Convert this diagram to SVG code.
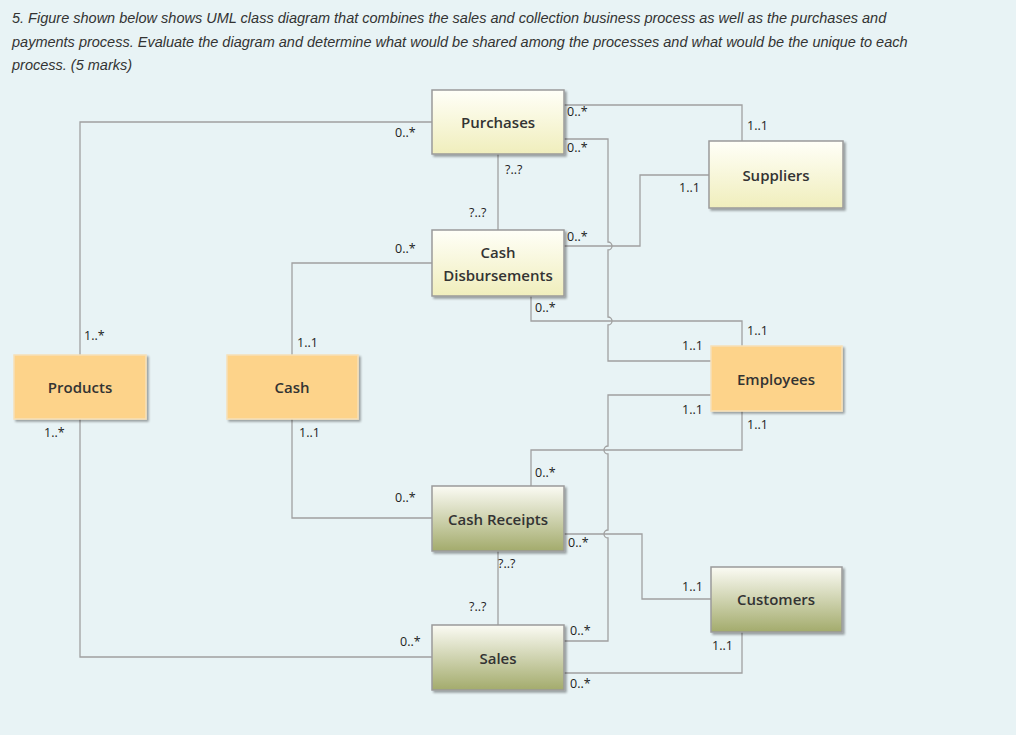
<svg xmlns="http://www.w3.org/2000/svg" width="1016" height="735" viewBox="0 0 1016 735">
<defs>
<linearGradient id="gy" x1="0" y1="0" x2="0" y2="1"><stop offset="0" stop-color="#fffff8"/><stop offset="1" stop-color="#f0eebc"/></linearGradient>
<linearGradient id="gg" x1="0" y1="0" x2="0" y2="1"><stop offset="0" stop-color="#fbfbf4"/><stop offset="1" stop-color="#a3ab6c"/></linearGradient>
<filter id="sh" x="-10%" y="-10%" width="130%" height="130%"><feDropShadow dx="2" dy="2" stdDeviation="1.2" flood-color="#000" flood-opacity="0.35"/></filter>
<style>
.hd{font-family:"Liberation Sans",Arial,sans-serif;font-style:italic;font-size:14.5px;fill:#333}
.lb{font-family:"Open Sans","DejaVu Sans",sans-serif;font-size:12.5px;fill:#222}
.nm{font-family:"Open Sans","DejaVu Sans",sans-serif;font-size:15px;font-weight:600;fill:#333;text-anchor:middle}
.bx{stroke:#9a9a9a;stroke-width:1.5;filter:url(#sh)}
.y{fill:url(#gy)} .g{fill:url(#gg)} .o{fill:#fdd38a;stroke:#f6e0b8}
#connectors path{fill:none;stroke:#a0a0a0;stroke-width:1.3}
</style>
</defs>
<rect width="1016" height="735" fill="#e8f3f5"/>
<text class="hd" x="12" y="23">5.   Figure shown below shows UML class diagram that combines the sales and collection business process as well as the purchases and</text>
<text class="hd" x="12" y="47">payments process. Evaluate the diagram and determine what would be shared among the processes and what would be the unique to each</text>
<text class="hd" x="12" y="70">process. (5 marks)</text>
<g id="connectors">
<path d="M432,122H80V355M80,419V657H432"/>
<path d="M432,263H292V355M292,419V518H432"/>
<path d="M564,105H742V141"/>
<path d="M564,139H608V242a4,4 0 0 1 0,8V317a4,4 0 0 1 0,8V361H711"/>
<path d="M564,246H640V175H709"/>
<path d="M531,296V321H742V346"/>
<path d="M531,486V450H742V411"/>
<path d="M564,641H608V538a4,4 0 0 1 0,-8V454a4,4 0 0 1 0,-8V395H711"/>
<path d="M564,534H642V599H711"/>
<path d="M564,673H742V632"/>
<path d="M498,154V230M498,551V625"/>
</g>
<g id="purchases"><rect class="bx y" x="432" y="90" width="132" height="64"/><text class="nm" x="498" y="128">Purchases</text></g>
<g id="cashdisb"><rect class="bx y" x="432" y="230" width="132" height="66"/><text class="nm" x="498" y="258">Cash</text><text class="nm" x="498" y="281">Disbursements</text></g>
<g id="suppliers"><rect class="bx y" x="709" y="141" width="134" height="67"/><text class="nm" x="776" y="181">Suppliers</text></g>
<g id="employees"><rect class="bx o" x="711" y="346" width="131" height="65"/><text class="nm" x="776" y="385">Employees</text></g>
<g id="cashreceipts"><rect class="bx g" x="432" y="486" width="132" height="65"/><text class="nm" x="498" y="525">Cash Receipts</text></g>
<g id="sales"><rect class="bx g" x="432" y="625" width="132" height="65"/><text class="nm" x="498" y="664">Sales</text></g>
<g id="customers"><rect class="bx g" x="711" y="567" width="131" height="65"/><text class="nm" x="776" y="605">Customers</text></g>
<g id="products"><rect class="bx o" x="14" y="355" width="132" height="64"/><text class="nm" x="80" y="393">Products</text></g>
<g id="cash"><rect class="bx o" x="227" y="355" width="131" height="64"/><text class="nm" x="292" y="393">Cash</text></g>
<g id="labels">
<text class="lb" x="395" y="137">0..*</text>
<text class="lb" x="567" y="116">0..*</text>
<text class="lb" x="567" y="152">0..*</text>
<text class="lb" x="505" y="174">?..?</text>
<text class="lb" x="469" y="217">?..?</text>
<text class="lb" x="747" y="130">1..1</text>
<text class="lb" x="679" y="192">1..1</text>
<text class="lb" x="567" y="241">0..*</text>
<text class="lb" x="395" y="253">0..*</text>
<text class="lb" x="535" y="312">0..*</text>
<text class="lb" x="747" y="335">1..1</text>
<text class="lb" x="682" y="350">1..1</text>
<text class="lb" x="84" y="340">1..*</text>
<text class="lb" x="297" y="347">1..1</text>
<text class="lb" x="44" y="437">1..*</text>
<text class="lb" x="299" y="437">1..1</text>
<text class="lb" x="682" y="414">1..1</text>
<text class="lb" x="747" y="429">1..1</text>
<text class="lb" x="535" y="477">0..*</text>
<text class="lb" x="395" y="502">0..*</text>
<text class="lb" x="568" y="547">0..*</text>
<text class="lb" x="498" y="568">?..?</text>
<text class="lb" x="469" y="611">?..?</text>
<text class="lb" x="682" y="591">1..1</text>
<text class="lb" x="570" y="635">0..*</text>
<text class="lb" x="400" y="646">0..*</text>
<text class="lb" x="712" y="650">1..1</text>
<text class="lb" x="570" y="688">0..*</text>
</g>
</svg>
